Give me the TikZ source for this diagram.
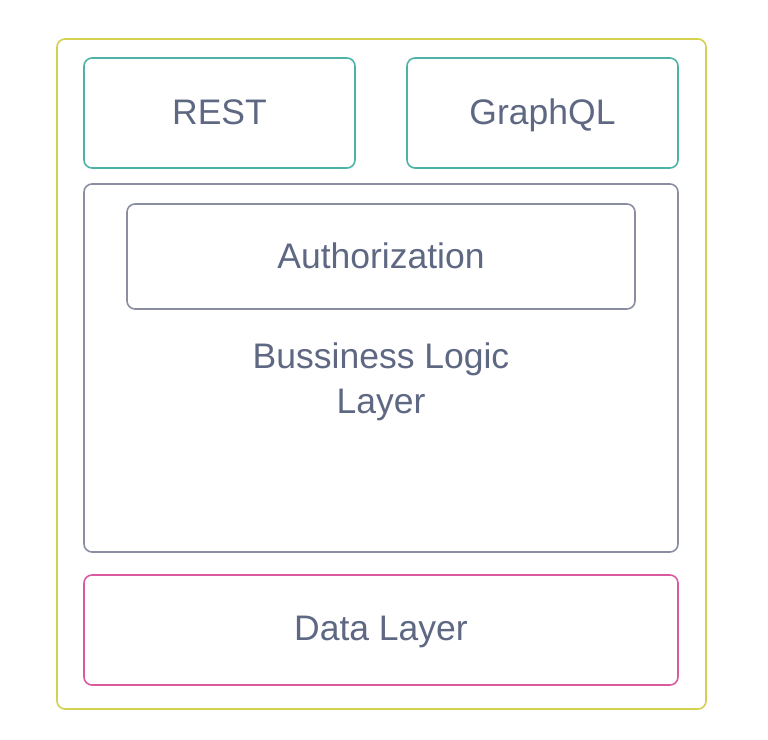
\documentclass[tikz,border=0pt]{standalone}
\usepackage{fontspec}
\setmainfont{Liberation Sans}
\definecolor{outerc}{HTML}{D4D050}
\definecolor{tealc}{HTML}{4DB3A6}
\definecolor{grayc}{HTML}{8A8EA0}
\definecolor{pinkc}{HTML}{D95A9E}
\definecolor{textc}{HTML}{5F6882}
\begin{document}
\begin{tikzpicture}[x=1pt,y=-1pt,
  box/.style={draw=#1, line width=1.6pt, rounded corners=8pt},
  lbl/.style={text=textc, font=\fontsize{35.5}{45}\selectfont, align=center, anchor=base, inner sep=0pt}]
\useasboundingbox (0,0) rectangle (768,739);
\draw[box=outerc] (57,39) rectangle (706,709);
\draw[box=tealc] (84,58) rectangle (355,168);
\draw[box=tealc] (407,58) rectangle (678,168);
\draw[box=grayc] (84,184) rectangle (678,552);
\draw[box=grayc] (127,204) rectangle (635,309);
\draw[box=pinkc] (84,575) rectangle (678,685);
\node[lbl] (rest) at (219.5,124) {REST};
\node[lbl] (gql) at (542.5,124) {GraphQL};
\node[lbl] (auth) at (381,268) {Authorization};
\node[lbl] (bll) at (381,368) {Bussiness Logic};
\node[lbl] (bll2) at (381,413) {Layer};
\node[lbl] (data) at (381,640) {Data Layer};
\end{tikzpicture}
\end{document}
